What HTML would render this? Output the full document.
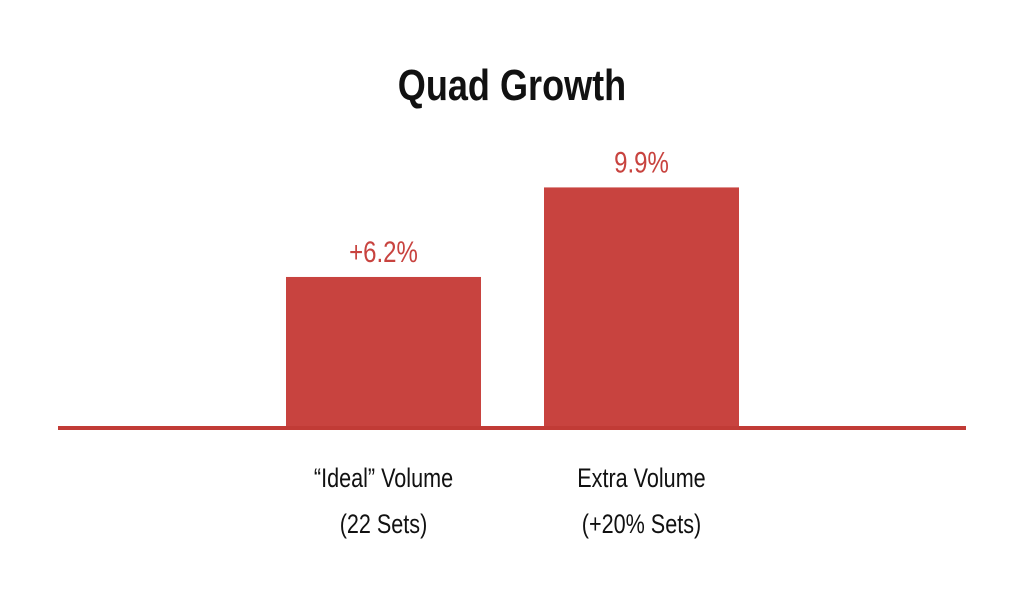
<!DOCTYPE html>
<html><head><meta charset="utf-8"><style>
html,body{margin:0;padding:0;background:#fff;}
svg{display:block;}
text{font-family:"Liberation Sans Narrow","Liberation Sans",sans-serif;}
</style></head><body>
<svg width="1024" height="599" viewBox="0 0 1024 599">
<text x="512" y="100" text-anchor="middle" font-size="44" font-weight="bold" fill="#111" transform="translate(512 0) scale(0.82 1) translate(-512 0)">Quad Growth</text>
<g id="bars"></g>
<line x1="58" y1="428" x2="966" y2="428" stroke="#c13b36" stroke-width="4"/>
</svg>
<script>
const categoriesLine1 = ["\u201cIdeal\u201d Volume", "Extra Volume"];
const categoriesLine2 = ["(22 Sets)", "(+20% Sets)"];
const values = [6.2, 9.9];
const valueLabels = ["+6.2%", "9.9%"];
const baseY = 427, pxPerUnit = 24.2, startX = 286, step = 258, barW = 195;
const yScale = v => baseY - v * pxPerUnit;
const xScale = i => startX + i * step;
const ns = "http://www.w3.org/2000/svg";
const g = document.getElementById("bars");
function condensed(t, cx){ t.setAttribute("transform", `translate(${cx} 0) scale(0.8 1) translate(${-cx} 0)`); }
values.forEach((v, i) => {
  const x = xScale(i), cx = x + barW / 2, y = yScale(v);
  const r = document.createElementNS(ns, "rect");
  r.setAttribute("x", x); r.setAttribute("y", y);
  r.setAttribute("width", barW); r.setAttribute("height", baseY - y);
  r.setAttribute("fill", "#c8433f");
  
  
  g.appendChild(r);
  const t = document.createElementNS(ns, "text");
  t.setAttribute("x", cx); t.setAttribute("y", y - 15);
  t.setAttribute("text-anchor", "middle"); t.setAttribute("font-size", "30");
  t.setAttribute("fill", "#c8433f"); t.textContent = valueLabels[i];
  condensed(t, cx);
  
  
  g.appendChild(t);
  [categoriesLine1[i], categoriesLine2[i]].forEach((s, j) => {
    const c = document.createElementNS(ns, "text");
    c.setAttribute("x", cx); c.setAttribute("y", 487 + j * 46);
    c.setAttribute("text-anchor", "middle"); c.setAttribute("font-size", "27");
    c.setAttribute("fill", "#111"); c.textContent = s;
    condensed(c, cx);
    
    
    g.appendChild(c);
  });
});
</script>
</body></html>
